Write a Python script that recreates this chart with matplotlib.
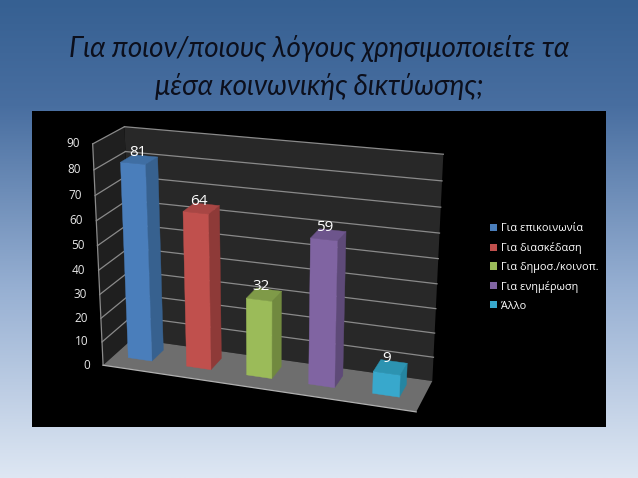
import numpy as np
import matplotlib
matplotlib.use("Agg")
import matplotlib.pyplot as plt
from matplotlib.patches import Rectangle, Patch
from mpl_toolkits.mplot3d import proj3d
from mpl_toolkits.mplot3d.art3d import Poly3DCollection

title_lines = ["Για ποιον/ποιους λόγους χρησιμοποιείτε τα", "μέσα κοινωνικής δικτύωσης;"]
categories = ["Για επικοινωνία", "Για διασκέδαση", "Για δημοσ./κοινοπ.", "Για ενημέρωση", "Άλλο"]
values = [81, 64, 32, 59, 9]
z_ticks = list(range(0, 100, 10))
front_colors = ["#4a7ebb", "#c0504d", "#9bbb59", "#8064a2", "#38a8cc"]
side_colors = ["#37618f", "#8e3a38", "#71893f", "#5e4a78", "#2585a1"]
top_colors = ["#3f6ea3", "#a84644", "#7f9a48", "#6d558c", "#2c93b1"]

W, H = 638, 478
fig = plt.figure(figsize=(W / 100, H / 100), dpi=100)

bg = fig.add_axes([0, 0, 1, 1])
bg.set_axis_off()
stops_y = [0, 0.22, 0.6, 1]
stops_c = np.array([[54, 96, 146], [72, 110, 160], [150, 175, 210], [222, 231, 243]]) / 255
yy = np.linspace(0, 1, 256)
grad = np.stack([np.interp(yy, stops_y, stops_c[:, i]) for i in range(3)], axis=1)[:, None, :]
bg.imshow(grad, extent=[0, 1, 1, 0], aspect="auto")
bg.set_xlim(0, 1); bg.set_ylim(1, 0)
bg.add_patch(Rectangle((32 / W, 111 / H), 574 / W, 316 / H, color="black", lw=0))

title_kw = dict(family="Lato", style="italic", color="#0c0f1c", ha="center", va="center", fontsize=20)
fig.text(319 / W, 1 - 48 / H, title_lines[0], **title_kw)
fig.text(319 / W, 1 - 87 / H, title_lines[1], **title_kw)

ax = fig.add_axes([(259 - 239) / W, -32 / H, 478 / W, 1], projection="3d", computed_zorder=False)
ax.set_proj_type("persp", focal_length=0.5)
ax.view_init(elev=20, azim=-71)
ax.set_box_aspect((325, 72, 232), zoom=0.846)
ax.patch.set_alpha(0)
ax.set_axis_off()
nx = len(values)
ax.set_xlim(0, nx); ax.set_ylim(0, 1); ax.set_zlim(0, z_ticks[-1])
M = ax.get_proj()


def label3d(x, y, z, text, dx=0, dy=0, **kw):
    """Real 2D text placed at the projected position of a 3D data point."""
    x2, y2, _ = proj3d.proj_transform(x, y, z, M)
    return ax.annotate(text, (x2, y2), xycoords="data", xytext=(dx, dy), textcoords="offset pixels", **kw)


zmax = z_ticks[-1]
floor = [[(0, 0, 0), (nx, 0, 0), (nx, 1, 0), (0, 1, 0)]]
back = [[(0, 1, 0), (nx, 1, 0), (nx, 1, zmax), (0, 1, zmax)]]
left = [[(0, 0, 0), (0, 1, 0), (0, 1, zmax), (0, 0, zmax)]]
ax.add_collection3d(Poly3DCollection(back, facecolor="#282828", edgecolor="none", zorder=1))
ax.add_collection3d(Poly3DCollection(left, facecolor="#1f1f1f", edgecolor="none", zorder=1))
ax.add_collection3d(Poly3DCollection(floor, facecolor="#6e6e6e", edgecolor="none", zorder=1))

gc = "#8a8a8a"
for z in z_ticks[1:]:
    ax.plot([0, nx], [1, 1], [z, z], color=gc, lw=0.9, zorder=2)
    ax.plot([0, 0], [0, 1], [z, z], color=gc, lw=0.9, zorder=2)
for z in z_ticks:
    label3d(0, 0, z, str(z), dx=-13, dy=0, color="#e8e8e8", fontsize=8.5, family="Open Sans",
            ha="right", va="center", zorder=6)
ax.plot([0, 0], [0, 0], [0, zmax], color=gc, lw=0.9, zorder=2)
ax.plot([0, nx], [0, 0], [0, 0], color="#b0b0b0", lw=0.9, zorder=2)

bw, by0, bd = 0.41, 0.37, 0.41
for i, v in enumerate(values):
    x0 = i + 0.44 - bw / 2
    faces = [
        [(x0 + bw, by0, 0), (x0 + bw, by0 + bd, 0), (x0 + bw, by0 + bd, v), (x0 + bw, by0, v)],
        [(x0, by0, v), (x0 + bw, by0, v), (x0 + bw, by0 + bd, v), (x0, by0 + bd, v)],
        [(x0, by0, 0), (x0 + bw, by0, 0), (x0 + bw, by0, v), (x0, by0, v)],
    ]
    cols = [side_colors[i], top_colors[i], front_colors[i]]
    for k, (f, c) in enumerate(zip(faces, cols)):
        ax.add_collection3d(Poly3DCollection([f], facecolor=c, edgecolor=c, linewidth=0.3, zorder=3 + k * 0.1))
    label3d(x0 + bw / 2, by0 + bd, v, str(v), dx=-7, dy=-5, color="white", fontsize=11, family="Open Sans",
            ha="center", va="bottom", zorder=7)

handles = [Patch(facecolor=c, edgecolor="none") for c in front_colors]
fig.legend(handles, categories, loc="upper left", bbox_to_anchor=(490 / W, 1 - 223 / H), frameon=False,
           labelcolor="white", prop={"family": "Open Sans", "size": 7.8}, handlelength=0.62, handleheight=0.62,
           handletextpad=0.4, labelspacing=0.73, borderpad=0, borderaxespad=0)

fig.savefig("out.png", dpi=100)
